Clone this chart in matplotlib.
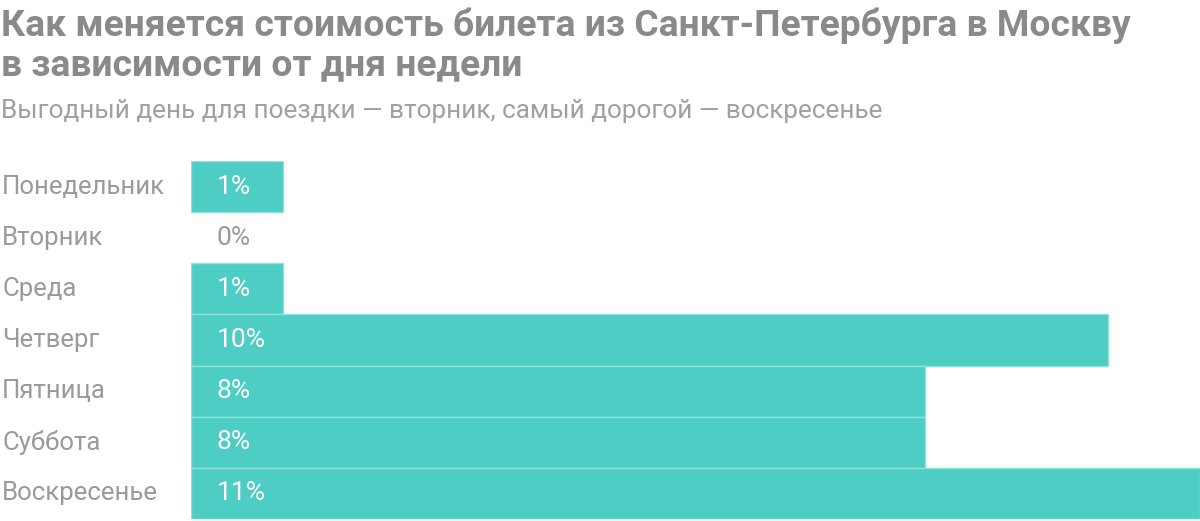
import numpy as np
import matplotlib
matplotlib.use('Agg')
from matplotlib import pyplot as plt

days = ['Понедельник', 'Вторник', 'Среда', 'Четверг', 'Пятница', 'Суббота', 'Воскресенье']
values = [1, 0, 1, 10, 8, 8, 11]

title_lines = ['Как меняется стоимость билета из Санкт-Петербурга в Москву',
               'в зависимости от дня недели']
subtitle = 'Выгодный день для поездки — вторник, самый дорогой — воскресенье'

plt.rcParams['font.family'] = ['Roboto', 'DejaVu Sans']

W, H, dpi = 1200, 521, 100
fig = plt.figure(figsize=(W / dpi, H / dpi), dpi=dpi)

# axes placed in pixel coords of the reference
left, right, top, bottom = 191, 1200, 161, 519
ax = fig.add_axes([left / W, (H - bottom) / H, (right - left) / W, (bottom - top) / H])

y = np.arange(len(days))
edges = ['#8ce3dc' if v > 0 else 'none' for v in values]
ax.barh(y, values, height=1.0, color='#4ecdc4', edgecolor=edges, linewidth=1.0)
ax.set_xlim(0, 11)
ax.set_ylim(len(days) - 0.5, -0.5)
ax.axis('off')

for i, (d, v) in enumerate(zip(days, values)):
    ax.text(-189 / (right - left) * 11, i, d, ha='left', va='center',
            fontsize=18.5, color='#9a9a9a')
    ax.annotate(f'{v}%', (0, i), xytext=(26 * 72 / dpi, 0), textcoords='offset points',
                ha='left', va='center', fontsize=19,
                color='white' if v > 0 else '#9a9a9a')

for k, line in enumerate(title_lines):
    fig.text(1 / W, 1 - (36 + 39 * k) / H, line, ha='left', va='baseline', fontsize=26.8,
             fontweight='bold', color='#8a8a8a')
fig.text(1 / W, 1 - 118 / H, subtitle, ha='left', va='baseline', fontsize=18.8,
         color='#a0a0a0')

fig.savefig('out.png', dpi=dpi)
